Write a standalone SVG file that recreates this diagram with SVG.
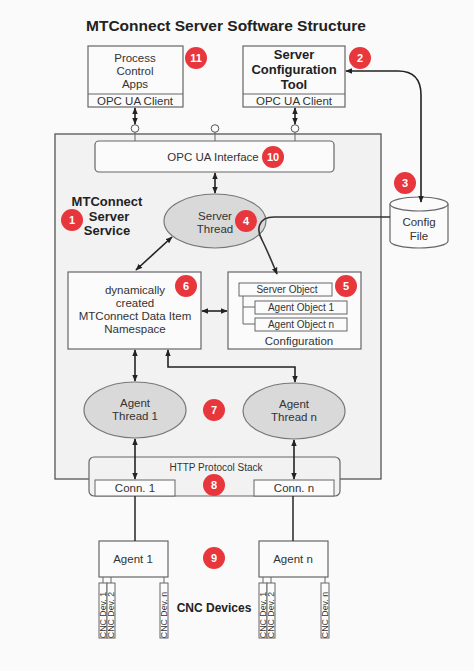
<svg xmlns="http://www.w3.org/2000/svg" width="474" height="671" viewBox="0 0 474 671">
<defs>
<marker id="ah" viewBox="0 0 10 10" refX="9" refY="5" markerWidth="7" markerHeight="7" orient="auto-start-reverse" markerUnits="userSpaceOnUse">
<path d="M0,1 L10,5 L0,9 z" fill="#222"/>
</marker>
<style>
text{font-family:"Liberation Sans",Arial,sans-serif;fill:#333;text-anchor:middle}
.box{fill:#fbfbfb;stroke:#666;stroke-width:1.2}
.ell{fill:#d9d9d9;stroke:#777;stroke-width:1.2}
.t{font-size:11.5px}
.s{font-size:10px}
.b{font-weight:bold;fill:#222}
.badge circle{fill:#e8363d}
.badge text{fill:#fff;font-weight:bold;font-size:11px}
.ar{stroke:#222;stroke-width:1.6;fill:none;marker-start:url(#ah);marker-end:url(#ah)}
.ln{stroke:#333;stroke-width:1.6;fill:none}
.thin{stroke:#666;stroke-width:1;fill:none}
.dev{font-size:8.8px}
</style>
</defs>
<rect width="474" height="671" fill="#fafafa"/>
<text x="226" y="31" class="b" style="font-size:15.5px">MTConnect Server Software Structure</text>

<g id="main-service">
<rect x="55" y="134" width="326" height="345" fill="#f2f2f2" stroke="#555" stroke-width="1.3"/>
<text x="107" y="206" class="b" style="font-size:13px">MTConnect</text>
<text x="109" y="221" class="b" style="font-size:13px">Server</text>
<text x="107" y="235" class="b" style="font-size:13px">Service</text>
</g>

<g id="process-control-apps">
<rect class="box" x="88" y="46" width="95" height="61"/>
<line class="thin" x1="88" y1="94" x2="183" y2="94"/>
<text x="135" y="62" class="t">Process</text>
<text x="135" y="75" class="t">Control</text>
<text x="135" y="88" class="t">Apps</text>
<text x="135" y="105" class="t">OPC UA Client</text>
</g>

<g id="config-tool">
<rect class="box" x="243" y="46" width="102" height="61"/>
<line class="thin" x1="243" y1="94" x2="345" y2="94"/>
<text x="294" y="59" class="b" style="font-size:13px">Server</text>
<text x="294" y="74" class="b" style="font-size:13px">Configuration</text>
<text x="294" y="89" class="b" style="font-size:13px">Tool</text>
<text x="294" y="105" class="t">OPC UA Client</text>
</g>

<g id="opc-ua-interface">
<rect class="box" x="95" y="141" width="239" height="31" rx="4"/>
<text x="213" y="161" class="t">OPC UA Interface</text>
<line class="thin" x1="135" y1="132" x2="135" y2="141"/>
<line class="thin" x1="215" y1="132" x2="215" y2="141"/>
<line class="thin" x1="295" y1="132" x2="295" y2="141"/>
<circle cx="135" cy="128.5" r="3.8" fill="#fafafa" stroke="#555"/>
<circle cx="215" cy="128.5" r="3.8" fill="#fafafa" stroke="#555"/>
<circle cx="295" cy="128.5" r="3.8" fill="#fafafa" stroke="#555"/>
</g>

<g id="server-thread">
<ellipse class="ell" cx="215" cy="221" rx="51" ry="27"/>
<text x="215" y="220" class="t">Server</text>
<text x="215" y="233" class="t">Thread</text>
</g>

<g id="config-file">
<path d="M390,204 L390,241 A29,7 0 0 0 448,241 L448,204" fill="#fbfbfb" stroke="#666" stroke-width="1.2"/>
<ellipse cx="419" cy="204" rx="29" ry="7" fill="#fbfbfb" stroke="#666" stroke-width="1.2"/>
<text x="419" y="226" class="t">Config</text>
<text x="419" y="240" class="t">File</text>
</g>

<g id="namespace">
<rect class="box" x="68" y="272" width="133" height="77"/>
<text x="135" y="294" class="t">dynamically</text>
<text x="135" y="307" class="t">created</text>
<text x="135" y="320" class="t">MTConnect Data Item</text>
<text x="135" y="333" class="t">Namespace</text>
</g>

<g id="configuration">
<rect class="box" x="228" y="272" width="133" height="77"/>
<text x="299" y="345" class="t">Configuration</text>
<path class="thin" d="M243,296 V324 H255 M243,307 H255"/>
<rect class="box" x="239" y="283" width="93" height="13" style="stroke-width:1"/>
<text x="287" y="293" class="s">Server Object</text>
<rect class="box" x="255" y="301" width="92" height="13" style="stroke-width:1"/>
<text x="301" y="311" class="s">Agent Object 1</text>
<rect class="box" x="255" y="318" width="92" height="13" style="stroke-width:1"/>
<text x="301" y="328" class="s">Agent Object n</text>
</g>

<g id="agent-thread-1">
<ellipse class="ell" cx="135" cy="410" rx="51" ry="28"/>
<text x="135" y="407" class="t">Agent</text>
<text x="135" y="420" class="t">Thread 1</text>
</g>

<g id="agent-thread-n">
<ellipse class="ell" cx="294" cy="411" rx="51" ry="28"/>
<text x="294" y="408" class="t">Agent</text>
<text x="294" y="421" class="t">Thread n</text>
</g>

<g id="http-stack">
<rect x="89" y="457" width="251" height="39" rx="5" fill="#f2f2f2" stroke="#666" stroke-width="1.2"/>
<text x="216" y="471" class="s">HTTP Protocol Stack</text>
<rect class="box" x="95" y="480" width="80" height="16" style="stroke-width:1"/>
<text x="135" y="492" class="t">Conn. 1</text>
<rect class="box" x="254" y="480" width="80" height="16" style="stroke-width:1"/>
<text x="294" y="492" class="t">Conn. n</text>
</g>

<g id="agent-1">
<rect class="box" x="99" y="541" width="69" height="36"/>
<text x="133" y="563" class="t">Agent 1</text>
<path class="thin" d="M103,577 V583 M111,577 V583 M164,577 V583"/>
<rect class="box" x="99" y="583" width="8" height="55" style="stroke-width:1"/>
<rect class="box" x="107" y="583" width="8" height="55" style="stroke-width:1"/>
<rect class="box" x="160" y="583" width="8" height="55" style="stroke-width:1"/>
<text class="dev" transform="translate(106,615) rotate(-90)">CNC Dev. 1</text>
<text class="dev" transform="translate(114,615) rotate(-90)">CNC Dev. 2</text>
<text class="dev" transform="translate(167,615) rotate(-90)">CNC Dev. n</text>
</g>

<g id="agent-n">
<rect class="box" x="259" y="541" width="69" height="36"/>
<text x="293" y="563" class="t">Agent n</text>
<path class="thin" d="M263,577 V583 M271,577 V583 M325,577 V583"/>
<rect class="box" x="259" y="583" width="8" height="55" style="stroke-width:1"/>
<rect class="box" x="267" y="583" width="8" height="55" style="stroke-width:1"/>
<rect class="box" x="321" y="583" width="8" height="55" style="stroke-width:1"/>
<text class="dev" transform="translate(266,615) rotate(-90)">CNC Dev. 1</text>
<text class="dev" transform="translate(274,615) rotate(-90)">CNC Dev. 2</text>
<text class="dev" transform="translate(328,615) rotate(-90)">CNC Dev. n</text>
</g>

<g id="cnc-devices-label">
<text x="214" y="612" class="b" style="font-size:12px">CNC Devices</text>
</g>

<g id="connectors">
<line class="ar" x1="135" y1="108" x2="135" y2="124"/>
<line class="ar" x1="295" y1="108" x2="295" y2="124"/>
<path class="ar" d="M346,71 H398 Q421,71 421,95 V202"/>
<line class="ar" x1="215" y1="173" x2="215" y2="193"/>
<line class="ar" x1="172" y1="237" x2="136" y2="270"/>
<path class="ln" d="M390,217 H274 C258,217 256,230 262,240 C268,252 272,262 277,274" marker-end="url(#ah)"/>
<line class="ar" x1="202" y1="311" x2="227" y2="311"/>
<line class="ar" x1="135" y1="350" x2="135" y2="381"/>
<path class="ar" d="M168,350 V367 H295 V382"/>
<line class="ar" x1="135" y1="439" x2="135" y2="479"/>
<line class="ar" x1="294" y1="440" x2="294" y2="479"/>
<line class="ln" x1="135" y1="496" x2="135" y2="541"/>
<line class="ln" x1="293" y1="496" x2="293" y2="541"/>
</g>

<g id="badges" class="badge">
<circle cx="196" cy="58" r="11"/><text x="196" y="62">11</text>
<circle cx="360" cy="58" r="11"/><text x="360" y="62">2</text>
<circle cx="405" cy="183" r="11"/><text x="405" y="187">3</text>
<circle cx="72" cy="220" r="11"/><text x="72" y="224">1</text>
<circle cx="273" cy="157" r="11"/><text x="273" y="161">10</text>
<circle cx="246" cy="221" r="11"/><text x="246" y="225">4</text>
<circle cx="186" cy="286" r="11"/><text x="186" y="290">6</text>
<circle cx="346" cy="286" r="11"/><text x="346" y="290">5</text>
<circle cx="214" cy="410" r="11"/><text x="214" y="414">7</text>
<circle cx="214" cy="485" r="11"/><text x="214" y="489">8</text>
<circle cx="214" cy="558" r="11"/><text x="214" y="562">9</text>
</g>
</svg>
